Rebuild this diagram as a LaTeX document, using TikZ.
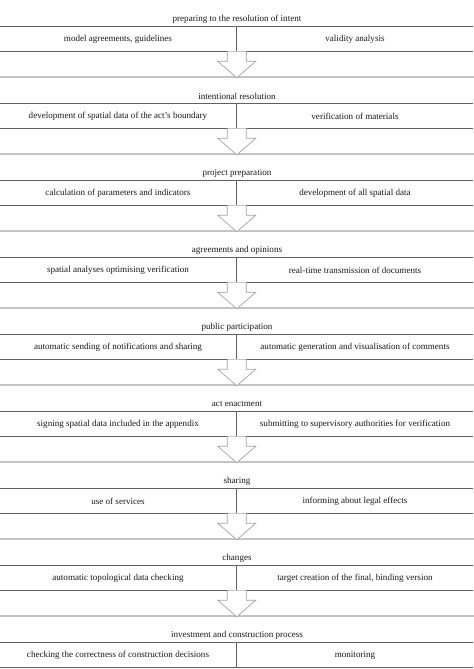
\documentclass[tikz,border=0pt]{standalone}
\usepackage{fontspec}
\setmainfont{Liberation Serif}
\usetikzlibrary{calc}
\definecolor{boxline}{HTML}{606060}
\definecolor{lightline}{HTML}{C4C4C4}
\definecolor{arrline}{HTML}{A0A0A0}
\definecolor{txt}{HTML}{1A1A1A}
\tikzset{
  lbl/.style={font=\fontsize{6.8}{8}\selectfont, text=txt, inner sep=0pt},
  half/.style={lbl, minimum width=177pt, minimum height=18pt, draw=none},
  boxrule/.style={draw=boxline, line width=1.1pt},
  divrule/.style={draw=boxline, line width=1.0pt},
  sepline/.style={draw=lightline, line width=0.8pt},
  blockarrow/.style={draw=arrline, fill=white, line width=0.5pt, line join=miter}
}
\newcommand{\mysec}[4]{%
  \node[lbl] (t#1) at (237,{19+77*#1}) {#2};
  \node[half] (l#1) at (118,{39+77*#1}) {#3};
  \node[half] (r#1) at (355,{39+77*#1}) {#4};
  \draw[boxrule] (l#1.north west) -- (r#1.north east);
  \draw[boxrule] (l#1.south west) -- (r#1.south east);
  \draw[divrule] (l#1.north east) -- (l#1.south east);
}
\newcommand{\myarrow}[1]{%
  \coordinate (s#1) at (0,{77+77*#1});
  \coordinate (e#1) at (474,{77+77*#1});
  \draw[sepline] (s#1) -- (e#1);
  \coordinate (a#1) at ($(l#1.south east)+(0.5,0)$);
  \draw[blockarrow] ($(a#1)+(-9.5,0)$) -- ++(0,10) -- ++(-9.5,0)
     -- ($(a#1)+(0,26.5)$) -- ($(a#1)+(19,10)$) -- ++(-9.5,0) -- ++(0,-10);
}
\begin{document}
\begin{tikzpicture}[x=0.75pt,y=-0.75pt]
\useasboundingbox (0,0) rectangle (474,669);
\fill[white] (0,0) rectangle (474,669);
\mysec{0}{preparing to the resolution of intent}{model agreements, guidelines}{validity analysis}
\mysec{1}{intentional resolution}{development of spatial data of the act's boundary}{verification of materials}
\mysec{2}{project preparation}{calculation of parameters and indicators}{development of all spatial data}
\mysec{3}{agreements and opinions}{spatial analyses optimising verification}{real-time transmission of documents}
\mysec{4}{public participation}{automatic sending of notifications and sharing}{automatic generation and visualisation of comments}
\mysec{5}{act enactment}{signing spatial data included in the appendix}{submitting to supervisory authorities for verification}
\mysec{6}{sharing}{use of services}{informing about legal effects}
\mysec{7}{changes}{automatic topological data checking}{target creation of the final, binding version}
\mysec{8}{investment and construction process}{checking the correctness of construction decisions}{monitoring}
\myarrow{0}\myarrow{1}\myarrow{2}\myarrow{3}\myarrow{4}\myarrow{5}\myarrow{6}\myarrow{7}
\end{tikzpicture}
\end{document}
